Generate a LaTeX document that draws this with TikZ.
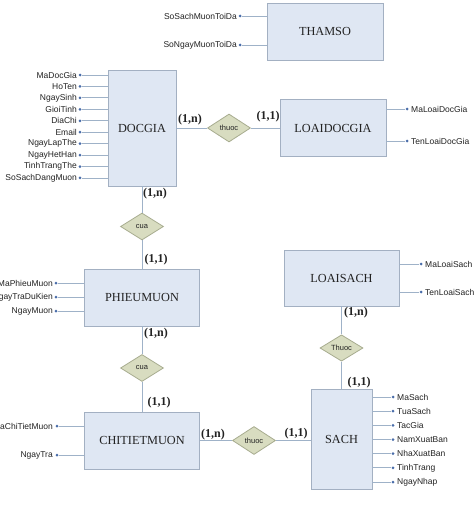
\documentclass[tikz,border=0pt]{standalone}
\usepackage{fontspec}
\setmainfont{Liberation Serif}
\newfontfamily\attrfont{Liberation Sans}
\usetikzlibrary{shapes.geometric}
\definecolor{boxfill}{HTML}{DFE7F3}
\definecolor{boxline}{HTML}{A3B0C2}
\definecolor{dfill}{HTML}{D8DCC0}
\definecolor{dline}{HTML}{A7AC8F}
\definecolor{lnk}{HTML}{9FB2C8}
\definecolor{dotc}{HTML}{4A6DAA}
\definecolor{txt}{HTML}{222222}
\tikzset{
  ent/.style={draw=boxline, fill=boxfill, line width=0.8pt, inner sep=0pt,
    font=\fontsize{12.3}{14}\selectfont, text=txt},
  rel/.style={diamond, draw=dline, fill=dfill, line width=0.8pt, inner sep=0pt,
    minimum width=43pt, minimum height=28pt, font=\attrfont\fontsize{7.5}{9}\selectfont, text=txt},
  card/.style={font=\bfseries\fontsize{12}{14}\selectfont, text=txt, inner sep=0pt},
  dot/.style={circle, fill=dotc, inner sep=0pt, minimum size=3pt},
  atl/.style={font=\attrfont\fontsize{8.5}{9}\selectfont, text=txt, inner sep=0pt, anchor=east},
  atr/.style={font=\attrfont\fontsize{8.5}{9}\selectfont, text=txt, inner sep=0pt, anchor=west},
  link/.style={draw=lnk, line width=0.8pt},
}
\begin{document}
\begin{tikzpicture}[x=1pt,y=-1pt]
\useasboundingbox (0,0) rectangle (474,511);
% entities
\node[ent, minimum width=116pt, minimum height=57pt] (thamso) at (325,31.5) {THAMSO};
\node[ent, minimum width=68pt, minimum height=116pt] (docgia) at (142,128) {DOCGIA};
\node[ent, minimum width=106pt, minimum height=57pt] (loaidocgia) at (333,128) {LOAIDOCGIA};
\node[ent, minimum width=115pt, minimum height=57pt] (phieumuon) at (142,297.5) {PHIEUMUON};
\node[ent, minimum width=115pt, minimum height=57pt] (chitietmuon) at (142,440.5) {CHITIETMUON};
\node[ent, minimum width=61pt, minimum height=100pt] (sach) at (341.5,439) {SACH};
\node[ent, minimum width=115pt, minimum height=56pt] (loaisach) at (341.5,278) {LOAISACH};
% relationships
\node[rel] (thuoc1) at (229,128) {thuoc};
\node[rel, minimum height=27pt] (cua1) at (142,226.5) {cua};
\node[rel, minimum height=27pt] (cua2) at (142,368) {cua};
\node[rel] (thuoc2) at (254,440.5) {thuoc};
\node[rel, minimum height=26pt] (thuoc3) at (341.5,348) {Thuoc};
% relationship links
\draw[link] (docgia) -- (thuoc1) -- (loaidocgia);
\draw[link] (docgia) -- (cua1) -- (phieumuon);
\draw[link] (phieumuon) -- (cua2) -- (chitietmuon);
\draw[link] (chitietmuon) -- (thuoc2) -- (sach.west |- thuoc2);
\draw[link] (loaisach) -- (thuoc3) -- (sach);
% cardinalities
\node[card] (c1) at (190,120) {(1,n)};
\node[card] (c2) at (268,117) {(1,1)};
\node[card] (c3) at (155,194) {(1,n)};
\node[card] (c4) at (156,260) {(1,1)};
\node[card] (c5) at (156,334) {(1,n)};
\node[card] (c6) at (159,403) {(1,1)};
\node[card] (c7) at (213,435) {(1,n)};
\node[card] (c8) at (296,434) {(1,1)};
\node[card] (c9) at (359,383) {(1,1)};
\node[card] (c10) at (356,313) {(1,n)};
% THAMSO attributes
\foreach \n/\t/\y in {t1/SoSachMuonToiDa/16, t2/SoNgayMuonToiDa/45}{
  \node[dot] (\n) at (240,\y) {};
  \node[atl] at (237,\y) {\t};
  \draw[link] (\n) -- (thamso.west |- \n);
}
% DOCGIA attributes
\foreach \n/\t/\i in {d1/MaDocGia/0, d2/HoTen/1, d3/NgaySinh/2, d4/GioiTinh/3, d5/DiaChi/4,
  d6/Email/5, d7/NgayLapThe/6, d8/NgayHetHan/7, d9/TinhTrangThe/8, d10/SoSachDangMuon/9}{
  \node[dot] (\n) at (80,{75+11.44*\i}) {};
  \node[atl] at (77,{75+11.44*\i}) {\t};
  \draw[link] (\n) -- (docgia.west |- \n);
}
% LOAIDOCGIA attributes
\foreach \n/\t/\y in {l1/MaLoaiDocGia/109, l2/TenLoaiDocGia/141}{
  \node[dot] (\n) at (407,\y) {};
  \node[atr] at (411,\y) {\t};
  \draw[link] (loaidocgia.east |- \n) -- (\n);
}
% PHIEUMUON attributes
\foreach \n/\t/\y in {p1/MaPhieuMuon/283, p2/NgayTraDuKien/297, p3/NgayMuon/311}{
  \node[dot] (\n) at (56,\y) {};
  \node[atl] at (53,\y) {\t};
  \draw[link] (\n) -- (phieumuon.west |- \n);
}
% CHITIETMUON attributes
\foreach \n/\t/\y in {ct1/MaChiTietMuon/426, ct2/NgayTra/455}{
  \node[dot] (\n) at (57,\y) {};
  \node[atl] at (53,\y) {\t};
  \draw[link] (\n) -- (chitietmuon.west |- \n);
}
% LOAISACH attributes
\foreach \n/\t/\y in {ls1/MaLoaiSach/264, ls2/TenLoaiSach/292}{
  \node[dot] (\n) at (421,\y) {};
  \node[atr] at (425,\y) {\t};
  \draw[link] (loaisach.east |- \n) -- (\n);
}
% SACH attributes
\foreach \n/\t/\i in {s1/MaSach/0, s2/TuaSach/1, s3/TacGia/2, s4/NamXuatBan/3,
  s5/NhaXuatBan/4, s6/TinhTrang/5, s7/NgayNhap/6}{
  \node[dot] (\n) at (393,{397+14.17*\i}) {};
  \node[atr] at (397,{397+14.17*\i}) {\t};
  \draw[link] (sach.east |- \n) -- (\n);
}
\end{tikzpicture}
\end{document}
